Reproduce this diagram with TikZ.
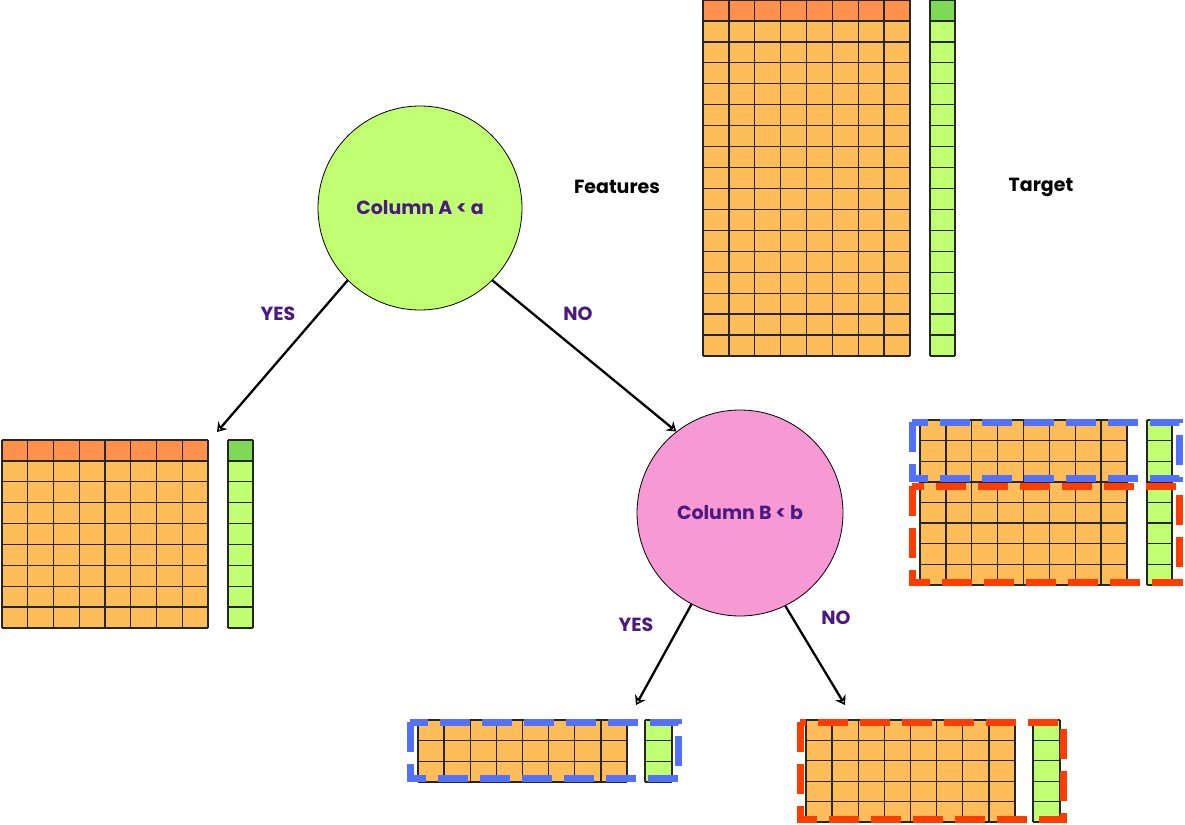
\documentclass[tikz,border=0pt]{standalone}
\usepackage{fontspec}
\setmainfont{Poppins}
\usetikzlibrary{arrows.meta}
\definecolor{hdr}{HTML}{FF914D}
\definecolor{body}{HTML}{FFBD59}
\definecolor{thdr}{HTML}{7ED957}
\definecolor{tbody}{HTML}{C1FF72}
\definecolor{lime}{HTML}{C1FF72}
\definecolor{pinkc}{HTML}{F799D4}
\definecolor{purp}{HTML}{4A1A80}
\definecolor{dblue}{HTML}{5271FF}
\definecolor{dred}{HTML}{FF3D00}
\newcommand{\mygrid}[8]{% x0 y0 x1 y1 rows header(1/0) tx0 tx1
  \pgfmathsetmacro{\rh}{(#4-#2)/#5}
  \pgfmathsetmacro{\cw}{(#3-#1)/8}
  \fill[body] (#1,#2) rectangle (#3,#4);
  \fill[tbody] (#7,#2) rectangle (#8,#4);
  \ifnum#6=1
    \fill[hdr] (#1,#2) rectangle (#3,#2+\rh);
    \fill[thdr] (#7,#2) rectangle (#8,#2+\rh);
  \fi
  \foreach \i in {0,...,#5}{\draw[cell] (#1,#2+\i*\rh) -- (#3,#2+\i*\rh);
    \draw[cell] (#7,#2+\i*\rh) -- (#8,#2+\i*\rh);}
  \foreach \j in {0,...,8}{\draw[cell] (#1+\j*\cw,#2) -- (#1+\j*\cw,#4);}
  \draw[cell] (#7,#2) -- (#7,#4) (#8,#2) -- (#8,#4);
}
\begin{document}
\begin{tikzpicture}[x=1pt,y=-1pt,
  cell/.style={draw=black!85,line width=1.3pt},
  lbl/.style={text=purp,font=\bfseries\fontsize{19}{22}\selectfont},
  ttl/.style={text=black,font=\bfseries\fontsize{19}{22}\selectfont},
  arr/.style={-{Stealth[open,length=9pt,width=12pt]},line width=2.3pt},
  grp/.style={line width=7pt,dash pattern=on 30pt off 12pt}]
\useasboundingbox (0,0) rectangle (1185,824);
\fill[white] (0,0) rectangle (1185,824);
% grids
\mygrid{703}{0}{910}{356}{17}{1}{930}{955}
\mygrid{2}{440}{208}{628}{9}{1}{228}{253}
\mygrid{920}{420}{1127}{585}{8}{0}{1147}{1172}
\mygrid{418}{720}{627}{782}{3}{0}{645}{672}
\mygrid{806}{720}{1015}{822}{5}{0}{1033}{1060}
% dashed groups
\draw[grp,dblue] (912,422) rectangle (1179,478);
\draw[grp,dred] (912,486) rectangle (1179,582);
\draw[grp,dblue] (410,722) rectangle (678,778);
\draw[grp,dred] (800,722) rectangle (1063,819);
% nodes
\node[circle,draw=black,line width=0.8pt,fill=lime,minimum size=204pt,inner sep=0pt,lbl] (A) at (420,208) {Column A < a};
\node[circle,draw=black,line width=0.8pt,fill=pinkc,minimum size=206pt,inner sep=0pt,lbl] (B) at (740,513) {Column B < b};
\node[ttl] (feat) at (617,187) {Features};
\node[ttl] (targ) at (1041,187) {Target};
\coordinate (L) at (217,432);
\coordinate (BY) at (636,705);
\coordinate (BN) at (845,705);
\draw[arr] (A.225) -- (L);
\draw[arr] (A.-45) -- (B.128);
\draw[arr] (B.-118) -- (BY);
\draw[arr] (B.-64) -- (BN);
\node[lbl] (y1) at (278,314) {YES};
\node[lbl] (n1) at (578,314) {NO};
\node[lbl] (y2) at (636,625) {YES};
\node[lbl] (n2) at (836,618) {NO};
\end{tikzpicture}
\end{document}
